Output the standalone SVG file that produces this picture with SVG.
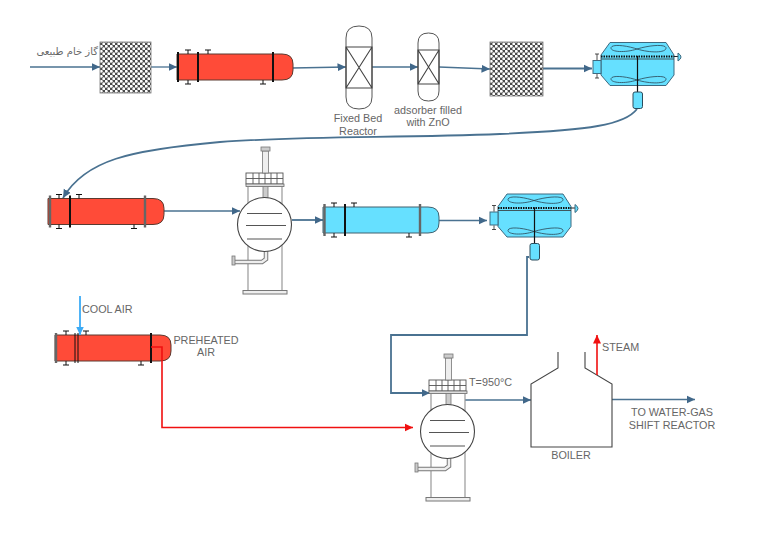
<svg xmlns="http://www.w3.org/2000/svg" width="768" height="543" viewBox="0 0 768 543">
<style>
text{font-family:"Liberation Sans",Arial,sans-serif;font-size:10.8px;fill:#666}
.c{fill:none;stroke:#4a7291;stroke-width:1.3}
.t{stroke-width:1.8}
.r{fill:none;stroke:#f01010;stroke-width:1.6}
.shell{stroke:#5a3a30;stroke-width:1}
.red{fill:#ff4b38}
.cy{fill:#66e0ff;stroke:#40606e}
.fb{stroke:#111;stroke-width:2;fill:none}
.fg{stroke:#666;stroke-width:2.4;fill:none}
.blk{stroke:#111;fill:none;stroke-width:1}
.gr{stroke:#555;stroke-width:.9;fill:#fff}
.gl{stroke:#999;stroke-width:1.2;fill:none}
.hatch{fill:url(#chk);stroke:#777;stroke-width:.8}
.fan{fill:none;stroke:#2c4656;stroke-width:.8}
</style>
<defs>
<pattern id="chk" width="5" height="5" patternUnits="userSpaceOnUse"><rect width="5" height="5" fill="#4a4a4a"/><circle cx="1.25" cy="1.25" r="1.45" fill="#fff"/><circle cx="3.75" cy="3.75" r="1.45" fill="#fff"/></pattern>
<marker id="a" markerUnits="userSpaceOnUse" markerWidth="10" markerHeight="10" refX="8.500" refY="5" orient="auto"><path d="M0,1L8.500,5L0,9z" fill="#41688a"/></marker>
<marker id="ar" markerUnits="userSpaceOnUse" markerWidth="10" markerHeight="10" refX="8.500" refY="5" orient="auto"><path d="M0,1L8.500,5L0,9z" fill="#f01010"/></marker>
<marker id="ab" markerUnits="userSpaceOnUse" markerWidth="10" markerHeight="10" refX="8.500" refY="5" orient="auto"><path d="M0,1L8.500,5L0,9z" fill="#3cabf5"/></marker>
<g id="noz" class="blk"><path d="M11,-13V-17M8,-17H14M31,-13V-17M28,-17H34M11,13V17M8,17H14M86,13V17M83,17H89"/></g>
<path id="shell" d="M0,-13H105Q116,-13 116,-3V3Q116,13 105,13H0z"/>
<g id="col">
<path class="gl" d="M248,187V290M282,187V290"/>
<rect x="246" y="173" width="37" height="11" class="gr"/>
<path d="M253,173V184M259,173V184M265,173V184M271,173V184M277,173V184M246,178.500H283" class="gr"/>
<rect x="246" y="184" width="38" height="2.500" fill="#ddd" stroke="#666" stroke-width=".8"/>
<rect x="262.500" y="151" width="6" height="22" fill="#eee" stroke="#777" stroke-width=".8"/>
<rect x="261" y="147" width="9" height="4" fill="#ccc" stroke="#777" stroke-width=".8"/>
<rect x="263" y="186.500" width="5" height="11" fill="#ccc" stroke="#777" stroke-width=".8"/>
<path d="M234,262H262L266,259V251" fill="none" stroke="#777" stroke-width="4.500"/>
<path d="M234,262H262L266,259V251" fill="none" stroke="#eee" stroke-width="2.500"/>
<rect x="232" y="256" width="3" height="9" fill="#ccc" stroke="#777" stroke-width=".8"/>
<rect x="243" y="290.500" width="44" height="3.500" fill="#eee" stroke="#777"/>
<circle cx="264.500" cy="224.500" r="27" fill="#fff" stroke="#444" stroke-width="1.100"/>
<path d="M247,213.500H282M246,225.500H286M247,239H282" stroke="#555" stroke-width="1.200"/>
</g>
<g id="fur">
<path d="M601,55L610,42.500H666L674,55V75L666,85.500H610L601,75z" fill="#66e0ff" stroke="#3d6a80"/>
<path class="fan" d="M611,48C611,44 625,45 637,49C650,53 666,53 666,48C666,44 650,45 637,49C625,53 611,52 611,48z"/>
<path class="fan" d="M611,79C611,75 625,76 637,80C650,84 666,84 666,79C666,75 650,76 637,80C625,84 611,83 611,79z"/>
<path d="M601,59H674" stroke="#333" stroke-width=".8"/>
<path d="M601,56.500H674" stroke="#111" stroke-width="2" stroke-dasharray="1.500 1"/>
<path d="M674,56.500H678" stroke="#222"/>
<path d="M678,53Q684,57 678,61z" fill="#66e0ff" stroke="#3d6a80"/>
<path d="M637.500,56V92" stroke="#111" stroke-width="1.200"/>
<rect x="593" y="60.500" width="8" height="13" fill="#66e0ff" stroke="#3d6a80"/>
<path d="M597,60V54M595,54H599M597,74V78M595,78H599" stroke="#222" stroke-width=".8"/>
<rect x="633" y="92" width="9.500" height="16.500" rx="2" fill="#66e0ff" stroke="#2c4c5c"/>
</g>
</defs>

<g id="connectors">
<path class="c" marker-end="url(#a)" d="M30,67H100"/>
<path class="c" marker-end="url(#a)" d="M151,67H177"/>
<path class="c" marker-end="url(#a)" d="M292,68L346,67"/>
<path class="c" marker-end="url(#a)" d="M372,67H418"/>
<path class="c" marker-end="url(#a)" d="M439,67L490,69"/>
<path class="c t" marker-end="url(#a)" d="M543,68.500H592"/>
<path class="c t" marker-end="url(#a)" d="M637,109C625,125 590,130 500,134C400,138 300,136 220,142C130,150 85,160 63,198"/>
<path class="c" marker-end="url(#a)" d="M164,211H240"/>
<path class="c t" marker-end="url(#a)" d="M292,220H323"/>
<path class="c" marker-end="url(#a)" d="M439,220.500H487"/>
<path class="c t" marker-end="url(#a)" d="M529,257H527V335H391V393H430"/>
<path class="c" marker-end="url(#a)" d="M465,400H531"/>
<path class="c" marker-end="url(#a)" d="M612,399.500H695"/>
</g>

<g id="hatch-1"><rect class="hatch" x="100" y="42" width="51" height="51"/></g>

<g id="hx-1" transform="translate(177,67)">
<use href="#shell" class="red shell"/><use href="#noz"/>
<path class="fb" d="M1,-15V15M21,-15V15M96,-15V15"/>
</g>

<g id="fixed-bed-reactor">
<path d="M346,38Q346,26 359,26Q372,26 372,38V97Q372,109 359,109Q346,109 346,97z" fill="#fff" stroke="#555"/>
<path d="M346,47H372V88H346zM346,47L372,88M372,47L346,88" fill="none" stroke="#444" stroke-width="1.100"/>
</g>

<g id="adsorber">
<path d="M418,43Q418,33 428.500,33Q439,33 439,43V91Q439,101 428.500,101Q418,101 418,91z" fill="#fff" stroke="#555"/>
<path d="M418,50H439V84H418zM418,50L439,84M439,50L418,84" fill="none" stroke="#444" stroke-width="1.100"/>
</g>

<g id="hatch-2"><rect class="hatch" x="490" y="42" width="53" height="54"/></g>

<g id="furnace-1"><use href="#fur"/></g>

<g id="hx-2" transform="translate(48,211.500)">
<use href="#shell" class="red shell"/><use href="#noz"/>
<path class="fg" d="M2,-16V16M97,-16V16"/><path class="fb" d="M22,-16V16"/>
</g>

<g id="column-1"><use href="#col"/></g>

<g id="hx-3" transform="translate(323,220)">
<use href="#shell" class="cy"/><use href="#noz"/>
<path class="fg" d="M1.500,-16V16M97,-16V16"/><path class="fb" d="M22,-16V16"/>
</g>

<g id="furnace-2" transform="translate(-103,151.500)"><use href="#fur"/></g>

<g id="hx-4" transform="translate(55,348)">
<use href="#shell" class="red shell"/><use href="#noz"/>
<path class="fg" d="M1,-15V15"/><path class="blk" d="M20,-15V15M23,-15V15"/><path class="fb" d="M96,-15V15"/>
</g>

<g id="column-2" transform="translate(183,207)"><use href="#col"/></g>

<g id="boiler"><path d="M558,352V368L531,384V447H612V384L585,368V352" fill="none" stroke="#444" stroke-width="1.100"/></g>

<g id="flows">
<path stroke="#3cabf5" stroke-width="1.800" fill="none" marker-end="url(#ab)" d="M80,296V335"/>
<path class="r" marker-end="url(#ar)" d="M151,347H162V427.500H413"/>
<path class="r" marker-end="url(#ar)" d="M597,375V335"/>
</g>

<g id="labels">
<text x="98" y="55" direction="rtl" style="font-family:'DejaVu Sans',sans-serif;font-size:10px">گاز خام طبیعی</text>
<text x="358" y="122" text-anchor="middle">Fixed Bed</text>
<text x="358" y="135" text-anchor="middle">Reactor</text>
<text x="428" y="114" text-anchor="middle">adsorber filled</text>
<text x="428" y="126" text-anchor="middle">with ZnO</text>
<text x="82" y="313">COOL AIR</text>
<text x="206" y="344" text-anchor="middle">PREHEATED</text>
<text x="206" y="356" text-anchor="middle">AIR</text>
<text x="469" y="386">T=950°C</text>
<text x="602" y="351">STEAM</text>
<text x="672" y="416" text-anchor="middle">TO WATER-GAS</text>
<text x="672" y="429" text-anchor="middle">SHIFT REACTOR</text>
<text x="571" y="459" text-anchor="middle">BOILER</text>
</g>
</svg>
